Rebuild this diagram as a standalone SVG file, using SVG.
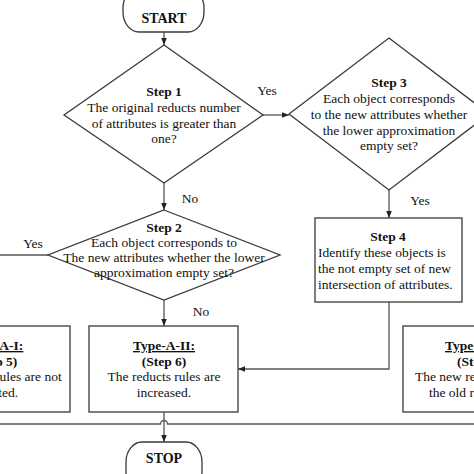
<svg xmlns="http://www.w3.org/2000/svg" width="474" height="474" viewBox="0 0 474 474">
<defs>
<style>
.s{fill:#fff;stroke:#3a3a3a;stroke-width:1.3}
.c{fill:none;stroke:#555;stroke-width:1.3}
text{font-family:"Liberation Serif","Times New Roman",serif;font-size:13.5px;fill:#111;text-anchor:middle}
.b{font-weight:bold}
.u{text-decoration:underline}
.l{text-anchor:start}
</style>
<marker id="ah" viewBox="0 0 10 10" refX="10" refY="5" markerWidth="7" markerHeight="7" orient="auto-start-reverse" markerUnits="userSpaceOnUse">
<path d="M0,1 L10,5 L0,9 Z" fill="#222"/>
</marker>
</defs>
<rect width="474" height="474" fill="#fff"/>
<g id="connectors">
<path class="c" d="M164,32 V45" marker-end="url(#ah)"/>
<path class="c" d="M263,115 H289" marker-end="url(#ah)"/>
<path class="c" d="M164,183 V210" marker-end="url(#ah)"/>
<path class="c" d="M389,190 V218" marker-end="url(#ah)"/>
<path class="c" d="M48,255 H0"/>
<path class="c" d="M164,300 V326" marker-end="url(#ah)"/>
<path class="c" d="M389,302 V369 H238" marker-end="url(#ah)"/>
<path class="c" d="M0,424 H160.5 A3.5,3.5 0 0 1 167.5,424 H474"/>
<path class="c" d="M164,412 V442" marker-end="url(#ah)"/>
<text x="267" y="95">Yes</text>
<text x="190" y="203">No</text>
<text x="420" y="205">Yes</text>
<text x="33" y="248">Yes</text>
<text x="201" y="316">No</text>
</g>
<g id="start">
<rect class="s" x="123" y="-12" width="81" height="44" rx="16" ry="20"/>
<text class="b" x="164" y="23" style="font-size:14px">START</text>
</g>
<g id="step1">
<polygon class="s" points="164,45 263,115 164,183 64,115"/>
<text class="b" x="164" y="96">Step 1</text>
<text x="164" y="112">The original reducts number</text>
<text x="164" y="128">of attributes is greater than</text>
<text x="164" y="143">one?</text>
</g>
<g id="step3">
<polygon class="s" points="389,38 489,114 389,190 289,114"/>
<text class="b" x="389" y="87">Step 3</text>
<text x="389" y="103">Each object corresponds</text>
<text x="389" y="119">to the new attributes whether</text>
<text x="389" y="135">the lower approximation</text>
<text x="389" y="150">empty set?</text>
</g>
<g id="step2">
<polygon class="s" points="164,210 280,255 164,300 48,255"/>
<text class="b" x="164" y="232">Step 2</text>
<text x="164" y="247">Each object corresponds to</text>
<text x="164" y="262">The new attributes whether the lower</text>
<text x="164" y="277">approximation empty set?</text>
</g>
<g id="step4">
<rect class="s" x="315" y="218" width="147" height="84"/>
<text class="b" x="388" y="241">Step 4</text>
<text class="l" x="318" y="257">Identify these objects is</text>
<text class="l" x="318" y="273">the not empty set of new</text>
<text class="l" x="318" y="289">intersection of attributes.</text>
</g>
<g id="typeA1">
<rect class="s" x="-80" y="326" width="150" height="86"/>
<text class="b u" x="-5" y="350">Type-A-I:</text>
<text class="b" x="-5" y="366">(Step 5)</text>
<text x="-5" y="381">The reducts rules are not</text>
<text x="-5" y="397">updated.</text>
</g>
<g id="typeA2">
<rect class="s" x="89" y="326" width="149" height="86"/>
<text class="b u" x="164" y="350">Type-A-II:</text>
<text class="b" x="164" y="366">(Step 6)</text>
<text x="164" y="381">The reducts rules are</text>
<text x="164" y="397">increased.</text>
</g>
<g id="typeA3">
<rect class="s" x="403" y="326" width="150" height="86"/>
<text class="b u l" x="445" y="350">Type-A-III:</text>
<text class="b l" x="457" y="366">(Step 7)</text>
<text class="l" x="415" y="381">The new reducts rules</text>
<text class="l" x="429" y="397">the old reducts rules.</text>
</g>
<g id="stop">
<rect class="s" x="126" y="442" width="76" height="50" rx="16" ry="20"/>
<text class="b" x="164" y="463" style="font-size:14px">STOP</text>
</g>
</svg>
